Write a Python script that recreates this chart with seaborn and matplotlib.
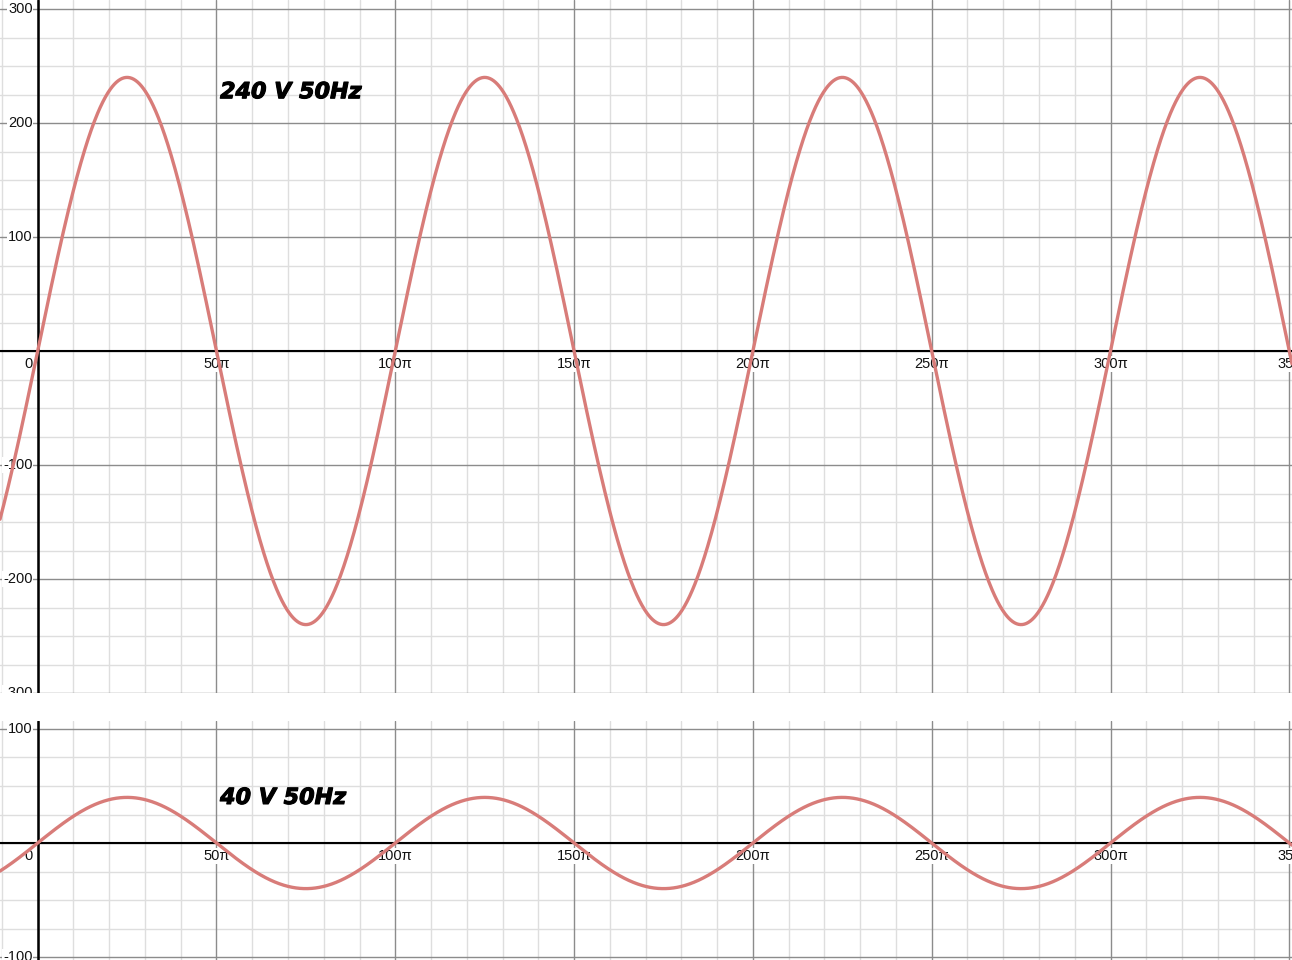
import numpy as np
import pandas as pd
import matplotlib
matplotlib.use("Agg")
import matplotlib.pyplot as plt
import matplotlib.patheffects as pe
import seaborn as sns

# peak voltages of the two traces and their captions
amplitudes = [240, 40]
captions = ["240 V 50Hz", "40 V 50Hz"]
half_period = 50  # zero crossings every 50π on the x axis

x_ticks = [0, 50, 100, 150, 200, 250, 300, 350]
x_tick_labels = ["0", "50π", "100π", "150π", "200π", "250π", "300π", "350"]
top_y_ticks = [-300, -200, -100, 100, 200, 300]
bottom_y_ticks = [-100, 100]

sns.set_theme(style="white")
plt.rcParams['font.family'] = ['Liberation Sans', 'DejaVu Sans']

W, H = 1292, 960
fig = plt.figure(figsize=(W / 100, H / 100), dpi=100)
ax_top = fig.add_axes([0, 1 - 693 / H, 1, 693 / H])
ax_bot = fig.add_axes([0, 0, 1, 239 / H])

xlim = (-10.54, 350.75)
panels = [
    (ax_top, amplitudes[0], captions[0], top_y_ticks, (-300, 307.9), 227),
    (ax_bot, amplitudes[1], captions[1], bottom_y_ticks, (-102.6, 107.0), 39.5),
]

line_color = "#d87c79"
major_c = "#8c8c8c"
minor_c = "#dedede"

for ax, amp, caption, yticks, ylim, cap_y in panels:
    x = np.linspace(xlim[0], xlim[1], 2000)
    df = pd.DataFrame({"x": x, "y": amp * np.sin(np.pi * x / half_period)})

    ax.set_xlim(*xlim)
    ax.set_ylim(*ylim)

    # grid: minor every 10π / 25 units, major every 50π / 100 units
    for gx in np.arange(-10, 360, 10):
        major = gx % 50 == 0
        ax.axvline(gx, color=major_c if major else minor_c, lw=1, zorder=1 if major else 0.5)
    for gy in np.arange(-300, 325, 25):
        major = gy % 100 == 0
        ax.axhline(gy, color=major_c if major else minor_c, lw=1, zorder=1 if major else 0.5)
    ax.axhline(0, color="black", lw=1.5, zorder=2)
    ax.axvline(0, color="black", lw=1.8, zorder=2)

    sns.lineplot(data=df, x="x", y="y", ax=ax, color=line_color, lw=2.4,
                 zorder=4, sort=False, estimator=None)

    for v, lab in zip(x_ticks, x_tick_labels):
        if v == 0:
            ax.annotate(lab, xy=(0, 0), xytext=(-5, -6), textcoords="offset pixels",
                        ha="right", va="top", fontsize=10.5, color="#111111",
                        clip_on=True, zorder=3)
        else:
            ax.annotate(lab, xy=(v, 0), xytext=(0, -6), textcoords="offset pixels",
                        ha="center", va="top", fontsize=10.5, color="#111111",
                        clip_on=True, zorder=3,
                        bbox=dict(facecolor="white", edgecolor="none", pad=0.5))
    for v in yticks:
        lab = str(v) if v > 0 else "-" + str(abs(v))
        ax.annotate(lab, xy=(0, v), xytext=(-5, 0), textcoords="offset pixels",
                    ha="right", va="center", fontsize=10.5, color="#111111",
                    clip_on=True, zorder=3,
                    bbox=dict(facecolor="white", edgecolor="none", pad=0.5))

    ax.text(51, cap_y, caption, fontsize=16, fontweight="bold", fontstyle="italic",
            family="DejaVu Sans", ha="left", va="center", color="black", zorder=5,
            path_effects=[pe.withStroke(linewidth=0.8, foreground="black")])

    ax.set_xlabel("")
    ax.set_ylabel("")
    ax.set_xticks([])
    ax.set_yticks([])
    for s in ax.spines.values():
        s.set_visible(False)

fig.savefig("out.png", dpi=100)
